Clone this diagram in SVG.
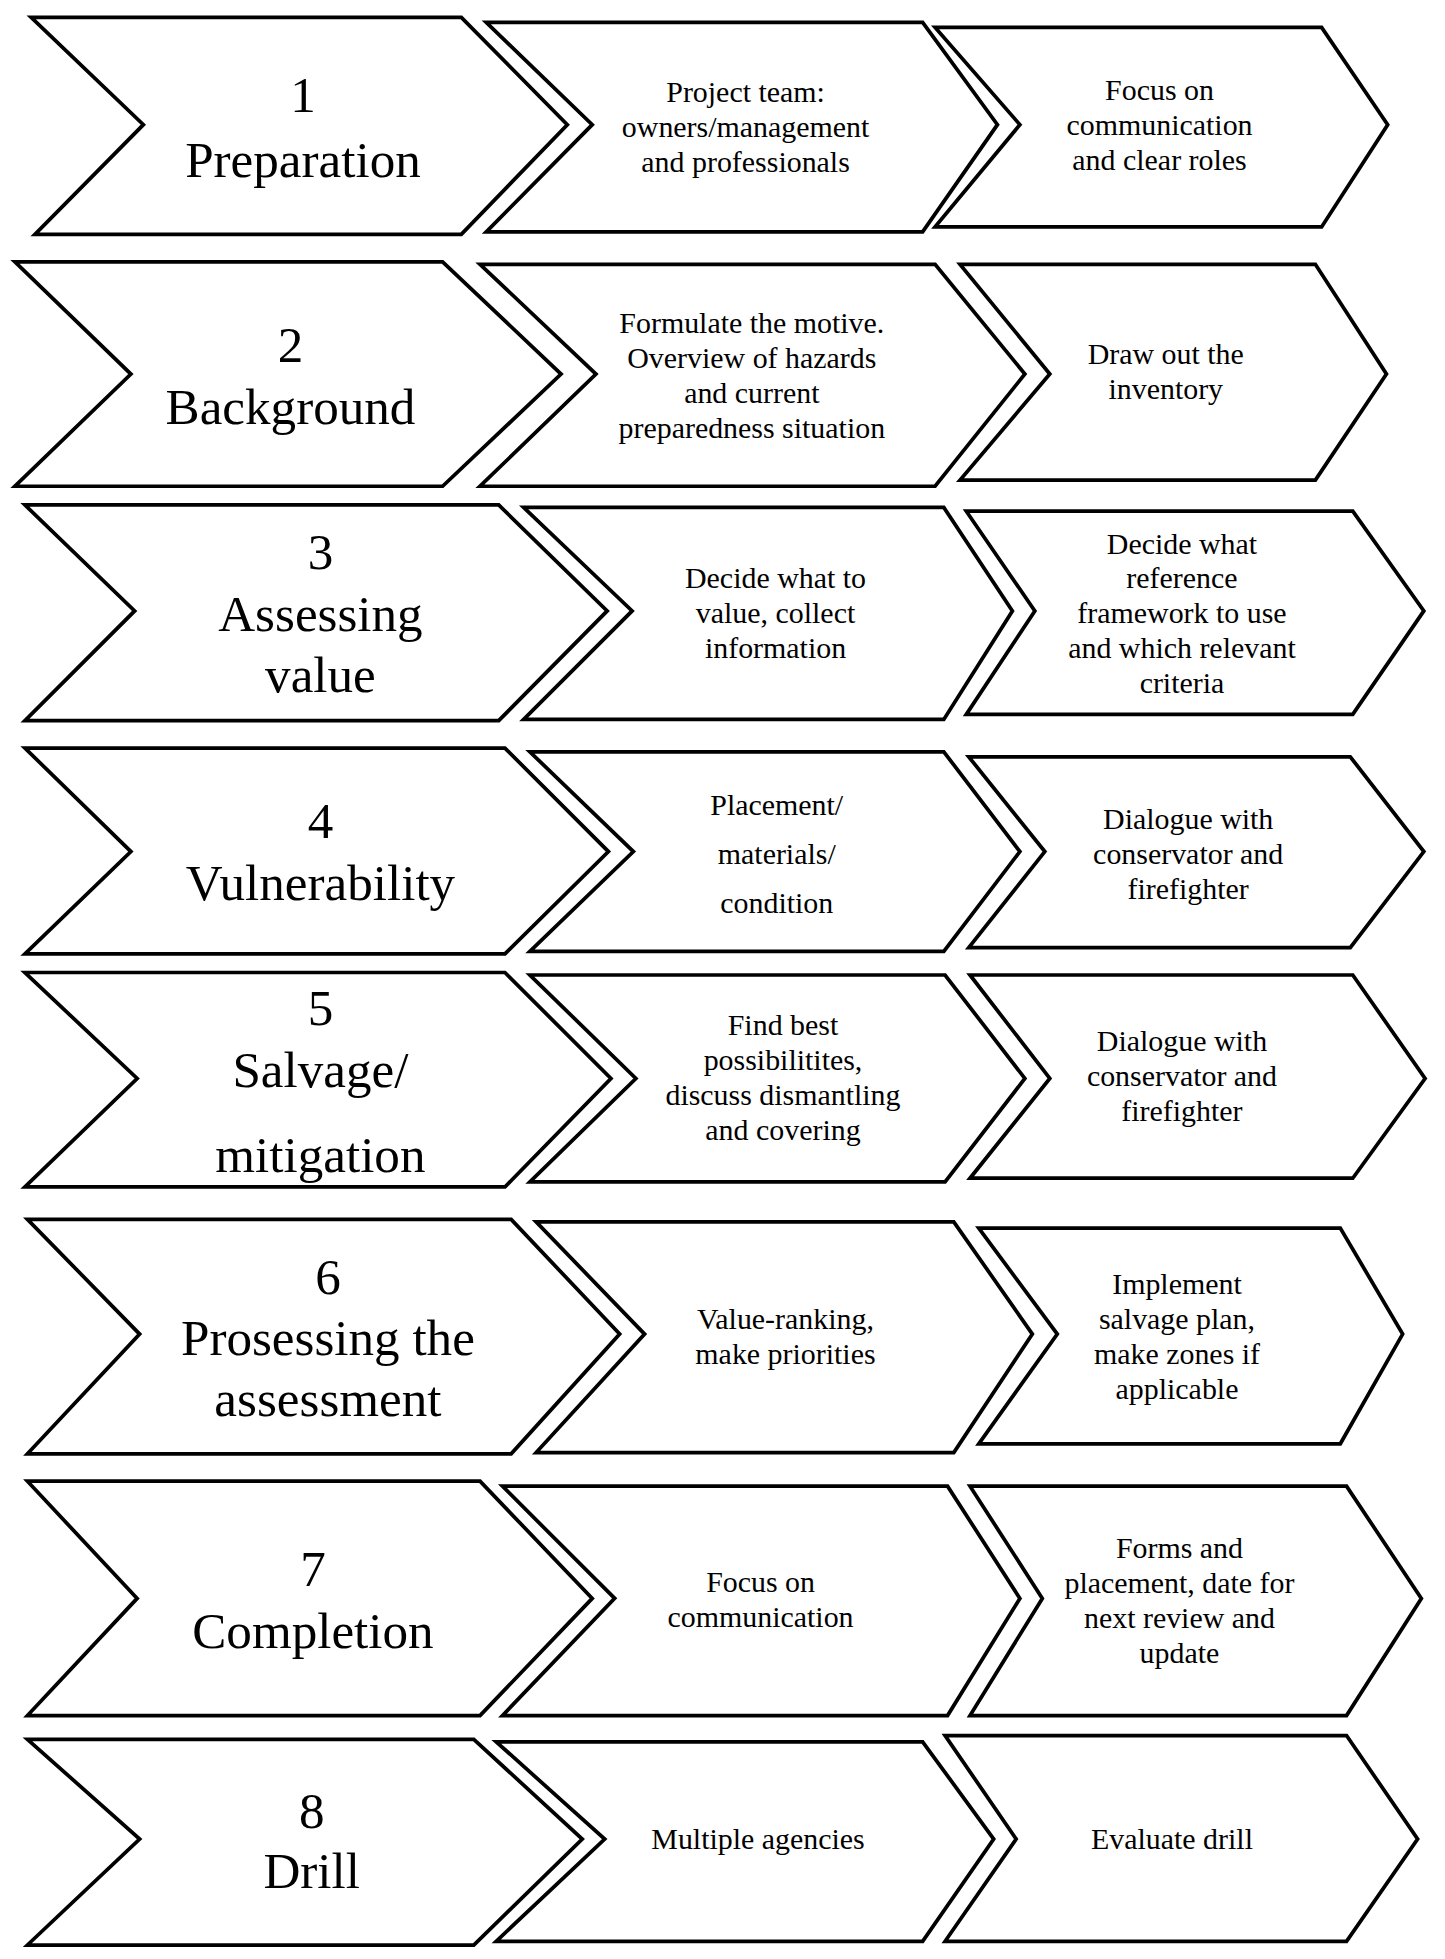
<svg xmlns="http://www.w3.org/2000/svg" width="1445" height="1959" viewBox="0 0 1445 1959">
<style>
.c{fill:#fff;stroke:#000;stroke-width:3;stroke-linejoin:miter}
.b{font-family:"Liberation Serif","Times New Roman",serif;font-size:41px;text-anchor:middle}
.s{font-family:"Liberation Serif","Times New Roman",serif;font-size:24px;text-anchor:middle}
</style>
<rect width="1445" height="1959" fill="#fff"/>
<g transform="scale(1.2468)">
<g id="r1">
<polygon class="c" points="25,14 370,14 455,100 370,188 28,188 115,100"/>
<text class="b"><tspan x="243" y="90">1</tspan><tspan x="243" y="142">Preparation</tspan></text>
<polygon class="c" points="390,18 740,18 800,100 740,186 390,186 475,100"/>
<text class="s"><tspan x="598" y="82">Project team:</tspan><tspan x="598" y="110">owners/management</tspan><tspan x="598" y="138">and professionals</tspan></text>
<polygon class="c" points="750,22 1060,22 1113,100 1060,182 750,182 818,100"/>
<text class="s"><tspan x="930" y="80">Focus on</tspan><tspan x="930" y="108">communication</tspan><tspan x="930" y="136">and clear roles</tspan></text>
</g>
<g id="r2">
<polygon class="c" points="12,210 355,210 450,300 355,390 12,390 105,300"/>
<text class="b"><tspan x="233" y="290">2</tspan><tspan x="233" y="340">Background</tspan></text>
<polygon class="c" points="385,212 750,212 822,300 750,390 385,390 478,300"/>
<text class="s"><tspan x="603" y="267">Formulate the motive.</tspan><tspan x="603" y="295">Overview of hazards</tspan><tspan x="603" y="323">and current</tspan><tspan x="603" y="351">preparedness situation</tspan></text>
<polygon class="c" points="770,212 1055,212 1112,300 1055,385 770,385 842,300"/>
<text class="s"><tspan x="935" y="292">Draw out the</tspan><tspan x="935" y="320">inventory</tspan></text>
</g>
<g id="r3">
<polygon class="c" points="20,405 400,405 487,490 400,578 20,578 108,490"/>
<text class="b"><tspan x="257" y="456">3</tspan><tspan x="257" y="506">Assessing</tspan><tspan x="257" y="555">value</tspan></text>
<polygon class="c" points="420,407 757,407 812,490 757,577 420,577 507,490"/>
<text class="s"><tspan x="622" y="472">Decide what to</tspan><tspan x="622" y="500">value, collect</tspan><tspan x="622" y="528">information</tspan></text>
<polygon class="c" points="775,410 1085,410 1142,490 1085,573 775,573 830,490"/>
<text class="s"><tspan x="948" y="444">Decide what</tspan><tspan x="948" y="472">reference</tspan><tspan x="948" y="500">framework to use</tspan><tspan x="948" y="528">and which relevant</tspan><tspan x="948" y="556">criteria</tspan></text>
</g>
<g id="r4">
<polygon class="c" points="20,600 405,600 488,683 405,765 20,765 105,683"/>
<text class="b"><tspan x="257" y="672">4</tspan><tspan x="257" y="722">Vulnerability</tspan></text>
<polygon class="c" points="425,603 757,603 818,683 757,763 425,763 508,683"/>
<text class="s"><tspan x="623" y="654">Placement/</tspan><tspan x="623" y="693">materials/</tspan><tspan x="623" y="732">condition</tspan></text>
<polygon class="c" points="777,607 1083,607 1142,683 1083,760 777,760 838,683"/>
<text class="s"><tspan x="953" y="665">Dialogue with</tspan><tspan x="953" y="693">conservator and</tspan><tspan x="953" y="721">firefighter</tspan></text>
</g>
<g id="r5">
<polygon class="c" points="20,780 405,780 490,865 405,952 20,952 110,865"/>
<text class="b"><tspan x="257" y="822">5</tspan><tspan x="257" y="872">Salvage/</tspan><tspan x="257" y="940">mitigation</tspan></text>
<polygon class="c" points="425,782 758,782 822,865 758,948 425,948 510,865"/>
<text class="s"><tspan x="628" y="830">Find best</tspan><tspan x="628" y="858">possibilitites,</tspan><tspan x="628" y="886">discuss dismantling</tspan><tspan x="628" y="914">and covering</tspan></text>
<polygon class="c" points="778,782 1085,782 1143,865 1085,945 778,945 842,865"/>
<text class="s"><tspan x="948" y="843">Dialogue with</tspan><tspan x="948" y="871">conservator and</tspan><tspan x="948" y="899">firefighter</tspan></text>
</g>
<g id="r6">
<polygon class="c" points="22,978 410,978 497,1070 410,1166 22,1166 112,1070"/>
<text class="b"><tspan x="263" y="1038">6</tspan><tspan x="263" y="1087">Prosessing the</tspan><tspan x="263" y="1136">assessment</tspan></text>
<polygon class="c" points="430,980 765,980 828,1070 765,1165 430,1165 517,1070"/>
<text class="s"><tspan x="630" y="1066">Value-ranking,</tspan><tspan x="630" y="1094">make priorities</tspan></text>
<polygon class="c" points="785,985 1075,985 1125,1070 1075,1158 785,1158 848,1070"/>
<text class="s"><tspan x="944" y="1038">Implement</tspan><tspan x="944" y="1066">salvage plan,</tspan><tspan x="944" y="1094">make zones if</tspan><tspan x="944" y="1122">applicable</tspan></text>
</g>
<g id="r7">
<polygon class="c" points="22,1188 385,1188 475,1282 385,1376 22,1376 110,1282"/>
<text class="b"><tspan x="251" y="1272">7</tspan><tspan x="251" y="1322">Completion</tspan></text>
<polygon class="c" points="403,1192 760,1192 818,1282 760,1376 403,1376 493,1282"/>
<text class="s"><tspan x="610" y="1277">Focus on</tspan><tspan x="610" y="1305">communication</tspan></text>
<polygon class="c" points="778,1192 1080,1192 1140,1282 1080,1376 778,1376 836,1282"/>
<text class="s"><tspan x="946" y="1250">Forms and</tspan><tspan x="946" y="1278">placement, date for</tspan><tspan x="946" y="1306">next review and</tspan><tspan x="946" y="1334">update</tspan></text>
</g>
<g id="r8">
<polygon class="c" points="22,1395 380,1395 467,1475 380,1560 22,1560 112,1475"/>
<text class="b"><tspan x="250" y="1466">8</tspan><tspan x="250" y="1514">Drill</tspan></text>
<polygon class="c" points="398,1397 740,1397 797,1475 740,1557 398,1557 485,1475"/>
<text class="s"><tspan x="608" y="1483">Multiple agencies</tspan></text>
<polygon class="c" points="758,1392 1080,1392 1137,1475 1080,1557 758,1557 815,1475"/>
<text class="s"><tspan x="940" y="1483">Evaluate drill</tspan></text>
</g>
<g id="connectors"/>
</g>
</svg>
